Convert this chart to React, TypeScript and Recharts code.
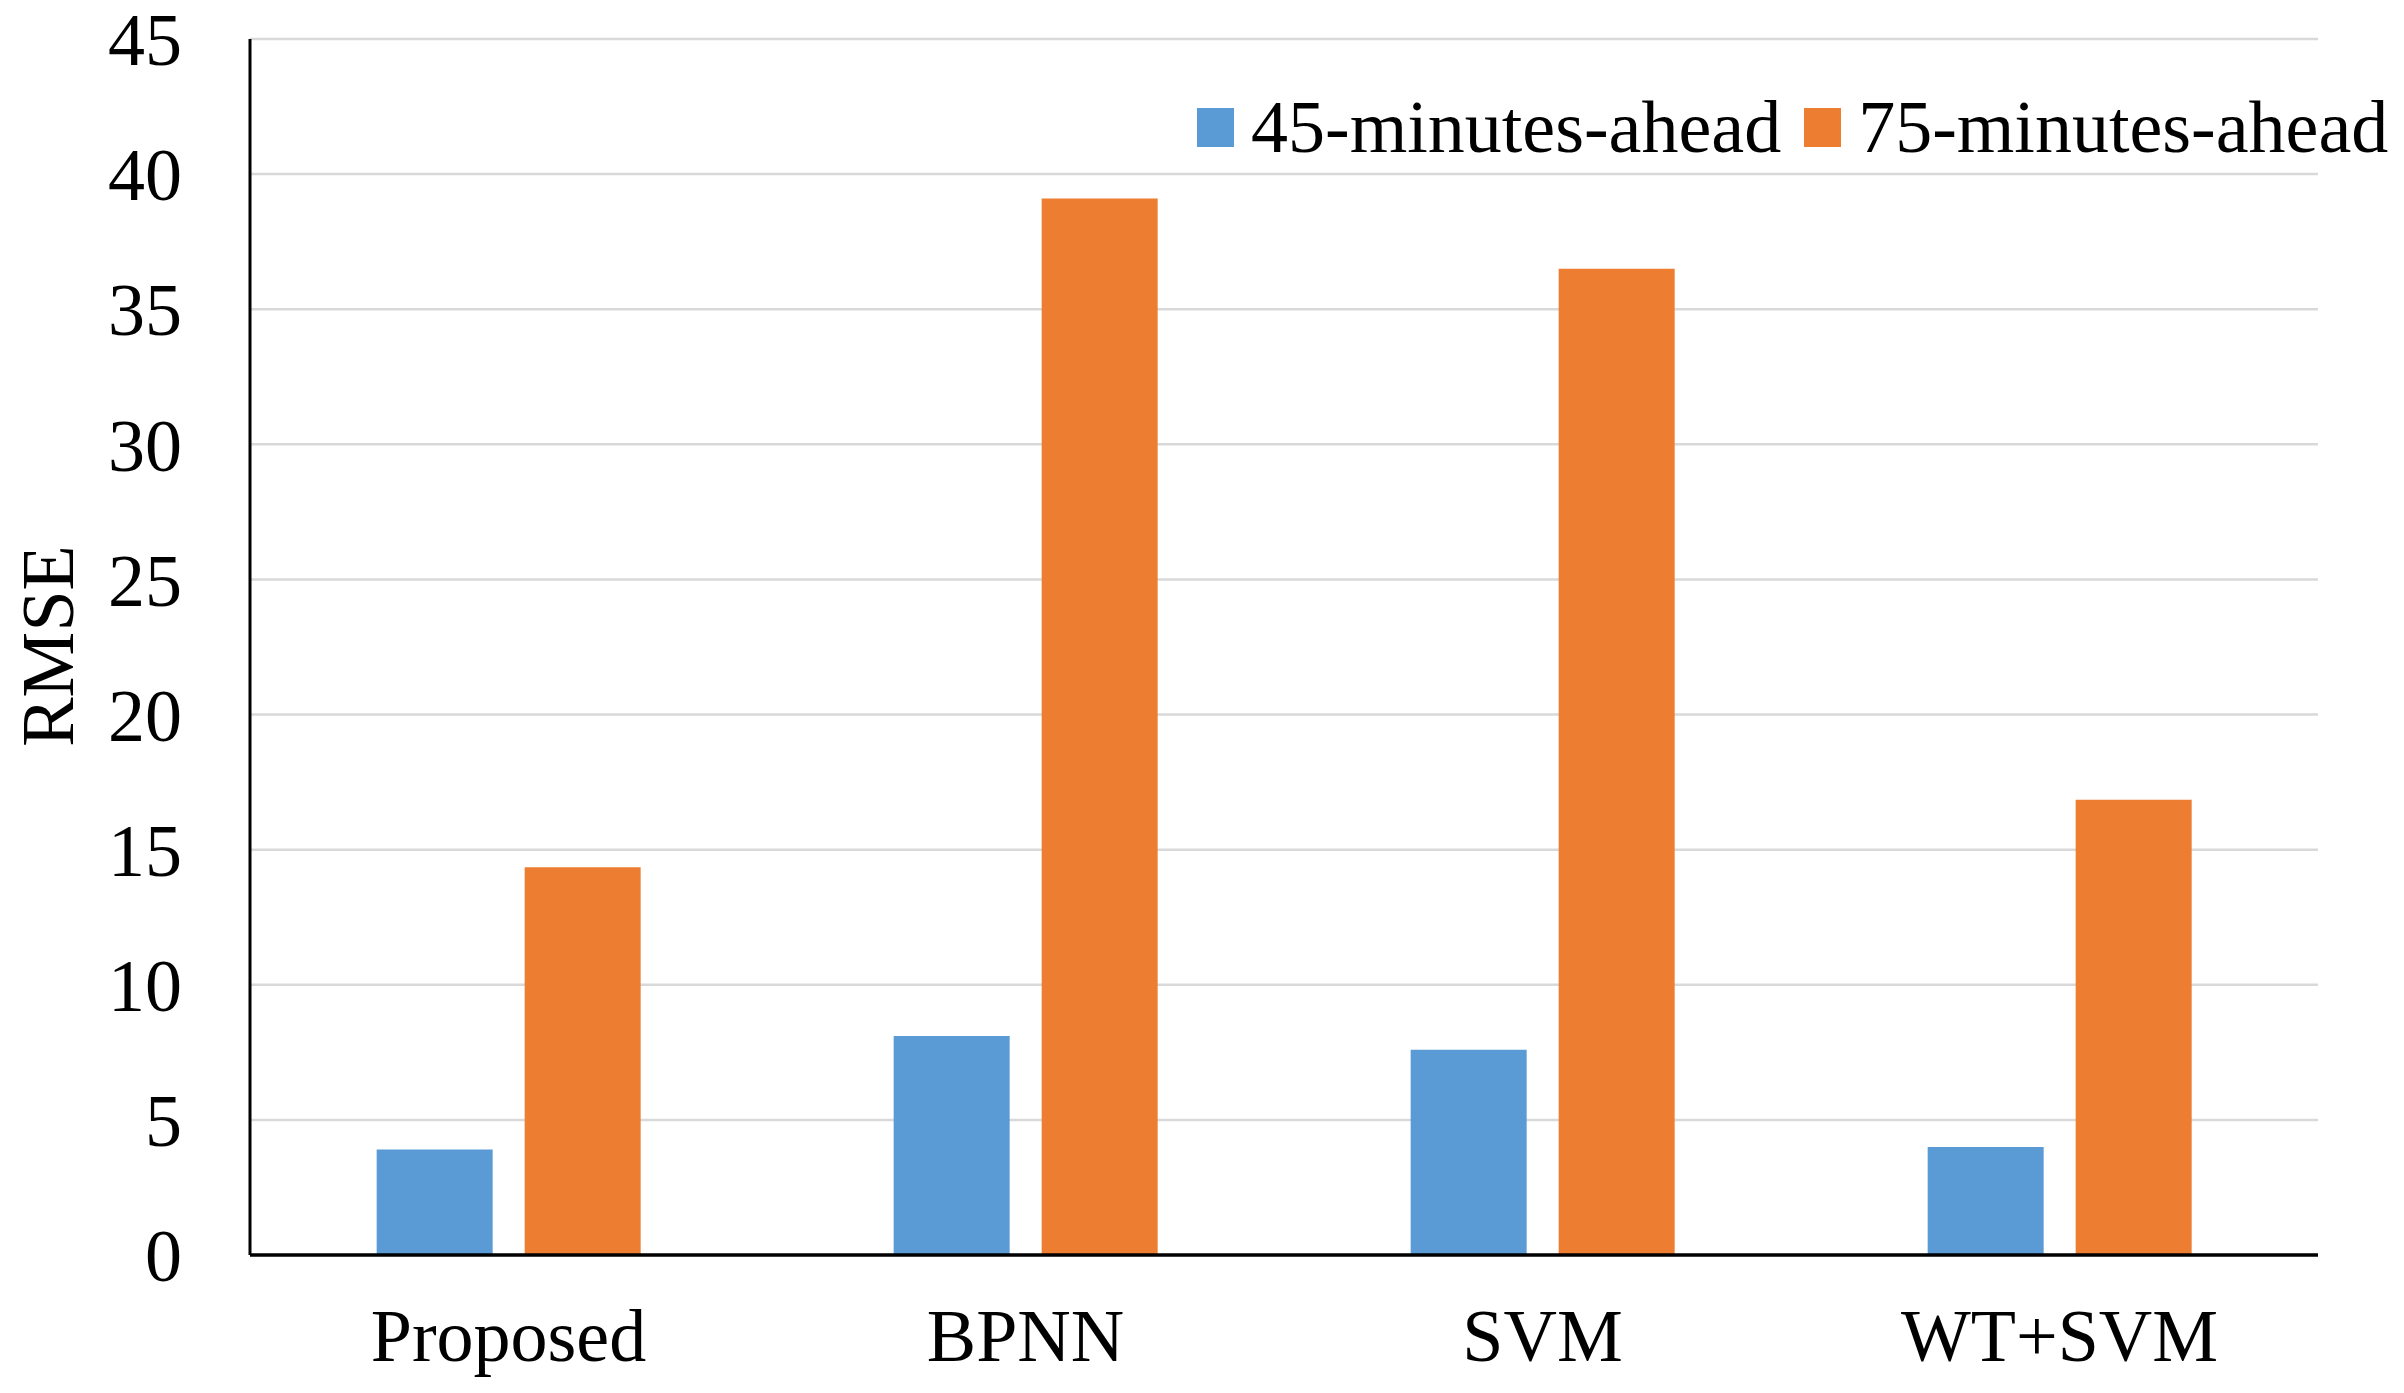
import { BarChart, Bar, XAxis, YAxis, CartesianGrid, Legend, Label } from 'recharts';

const categories = ['Proposed', 'BPNN', 'SVM', 'WT+SVM'];
const ahead45 = [3.9, 8.1, 7.6, 4.0];
const ahead75 = [14.35, 39.1, 36.5, 16.85];
const yTicks = [0, 5, 10, 15, 20, 25, 30, 35, 40, 45];
const seriesNames = ['45-minutes-ahead', '75-minutes-ahead'];

const COLORS = ['#5B9BD5', '#ED7D31'];
const FONT = "'Liberation Serif', 'Times New Roman', serif";
const FONT_SIZE = 74;

const data = categories.map((name, i) => ({
  name,
  a45: ahead45[i],
  a75: ahead75[i],
}));

// legend drawn by hand so the squares and spacing look like the Excel one
function renderLegend() {
  return (
    <div style={{ display: 'flex', alignItems: 'center', fontFamily: FONT, fontSize: FONT_SIZE, lineHeight: `${FONT_SIZE}px`, whiteSpace: 'nowrap', color: '#000' }}>
      {seriesNames.map((s, i) => (
        <div key={s} style={{ display: 'flex', alignItems: 'center', marginRight: i === 0 ? 23 : 0 }}>
          <span style={{ display: 'inline-block', width: 37, height: 39, background: COLORS[i], marginRight: 17 }} />
          <span>{s}</span>
        </div>
      ))}
    </div>
  );
}

function renderYLabel() {
  return (
    <text x={65} y={638} transform="rotate(-90, 65, 638)" textAnchor="middle" fontFamily={FONT} fontSize={FONT_SIZE} fill="#000">
      RMSE
    </text>
  );
}

export default function App() {
  return (
    <div style={{ width: 2388, height: 1377 }}>
      <BarChart
        width={2388}
        height={1377}
        data={data}
        margin={{ top: 31, right: 78, left: 42, bottom: 0 }}
        barGap={32}
        barCategoryGap="24.5%"
        style={{ fontFamily: FONT }}
      >
        <CartesianGrid vertical={false} stroke="#D9D9D9" strokeWidth={2.5} />
        <XAxis
          dataKey="name"
          height={130}
          tickLine={false}
          tickSize={0}
          tickMargin={53}
          axisLine={{ stroke: '#000', strokeWidth: 3.5 }}
          tick={{ fill: '#000', fontSize: FONT_SIZE, fontFamily: FONT }}
        />
        <YAxis
          width={200}
          domain={[0, 45]}
          ticks={yTicks}
          interval={0}
          tickLine={false}
          tickSize={0}
          tickMargin={68}
          axisLine={{ stroke: '#000', strokeWidth: 3 }}
          tick={{ fill: '#000', fontSize: FONT_SIZE, fontFamily: FONT }}
        >
          <Label content={renderYLabel} />
        </YAxis>
        <Legend
          layout="vertical"
          verticalAlign="middle"
          align="center"
          content={renderLegend}
          wrapperStyle={{ top: 82, left: 1189, width: 'auto' }}
        />
        <Bar dataKey="a45" name={seriesNames[0]} fill={COLORS[0]} isAnimationActive={false} />
        <Bar dataKey="a75" name={seriesNames[1]} fill={COLORS[1]} isAnimationActive={false} />
      </BarChart>
    </div>
  );
}
